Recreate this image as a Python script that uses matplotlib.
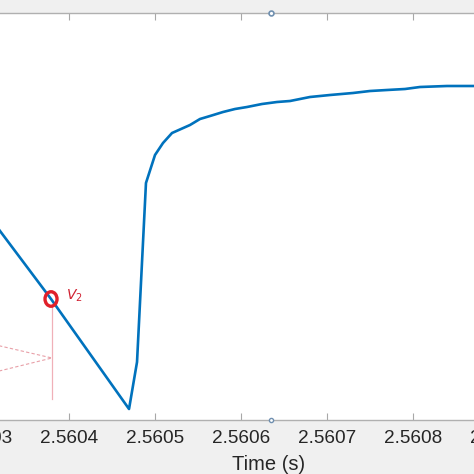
import matplotlib
matplotlib.use("Agg")
import matplotlib.pyplot as plt
from matplotlib.patches import Ellipse

# Data (time in s, signal in arbitrary units)
time_s = [2.5603000, 2.5603198, 2.5603791, 2.5604698, 2.5604791, 2.5604895,
          2.5605000, 2.5605093, 2.5605198, 2.5605407, 2.5605523, 2.5605640,
          2.5605791, 2.5605930, 2.5606070, 2.5606244, 2.5606419, 2.5606570,
          2.5606686, 2.5606802, 2.5606919, 2.5607035, 2.5607302, 2.5607500,
          2.5607698, 2.5607907, 2.5608081, 2.5608395, 2.5608698, 2.5609012]
voltage = [2.12, 1.89, 1.21, 0.11, 0.58, 2.37,
           2.65, 2.77, 2.87, 2.95, 3.01, 3.04,
           3.08, 3.11, 3.13, 3.16, 3.18, 3.19,
           3.21, 3.23, 3.24, 3.25, 3.27, 3.29,
           3.30, 3.31, 3.33, 3.34, 3.34, 3.34]

xticks = [2.5603, 2.5604, 2.5605, 2.5606, 2.5607, 2.5608, 2.5609]
xtick_labels = ["2.5603", "2.5604", "2.5605", "2.5606", "2.5607", "2.5608", "2.5609"]

# V2 marker point
v2_time = 2.5603791
v2_value = 1.21

plt.rcParams['font.family'] = ['Liberation Sans', 'DejaVu Sans']

W = H = 474
fig = plt.figure(figsize=(4.74, 4.74), dpi=100)
fig.patch.set_facecolor('#f0f0f0')

ax_left, ax_right = -17, 499
ax_bottom, ax_top = 420, 13
ax = fig.add_axes([ax_left / W, (H - ax_bottom) / H,
                   (ax_right - ax_left) / W, (ax_bottom - ax_top) / H])
ax.set_facecolor('white')

ax.plot(time_s, voltage, color='#0072BD', lw=1.9, solid_joinstyle='round')

ax.set_xlim(2.5603, 2.5609)
ax.set_ylim(0, 4.07)
ax.set_xticks(xticks)
ax.set_xticklabels(xtick_labels)
ax.set_yticks([])
ax.tick_params(axis='x', direction='in', length=5, width=0.8, color='#a8a8a8',
               top=True, labelsize=13.7, labelcolor='#262626', pad=7)
for s in ax.spines.values():
    s.set_color('#b0b0b0')
    s.set_linewidth(1.0)
ax.set_xlabel('Time (s)', fontsize=14.5, color='#262626')
ax.xaxis.set_label_coords((269 - ax_left) / (ax_right - ax_left), -(463 - ax_bottom + 1) / (ax_bottom - ax_top))
ax.xaxis.label.set_va('center')

# Annotations
ax.add_patch(Ellipse((v2_time, v2_value), width=12 / 86 * 1e-4, height=0.145,
                     fill=False, ec='#e0202a', lw=2.4, zorder=5))
ax.text(v2_time + 15 / 86 * 1e-4, v2_value + 0.03, r'$V_2$', color='#d02030',
        fontsize=10, va='center', ha='left')
ax.plot([2.5603802, 2.5603802], [1.13, 0.21], color='#f0b0b8', lw=0.9)
ax.plot([2.5603, 2.5603802], [0.78, 0.62], color='#e8a0a8', lw=0.8, ls=(0, (3, 2)))
ax.plot([2.5603, 2.5603802], [0.45, 0.62], color='#e8a0a8', lw=0.8, ls=(0, (3, 2)))

# selection handles
fig.add_artist(plt.Line2D([271 / W], [(H - 13) / H], marker='o', ms=3.5, mfc='white',
                          mec='#7090b0', mew=1.2, transform=fig.transFigure))
fig.add_artist(plt.Line2D([271 / W], [(H - 420) / H], marker='o', ms=3.0, mfc='white',
                          mec='#7090b0', mew=1.0, transform=fig.transFigure))

fig.savefig('out.png', dpi=100, facecolor=fig.get_facecolor())
